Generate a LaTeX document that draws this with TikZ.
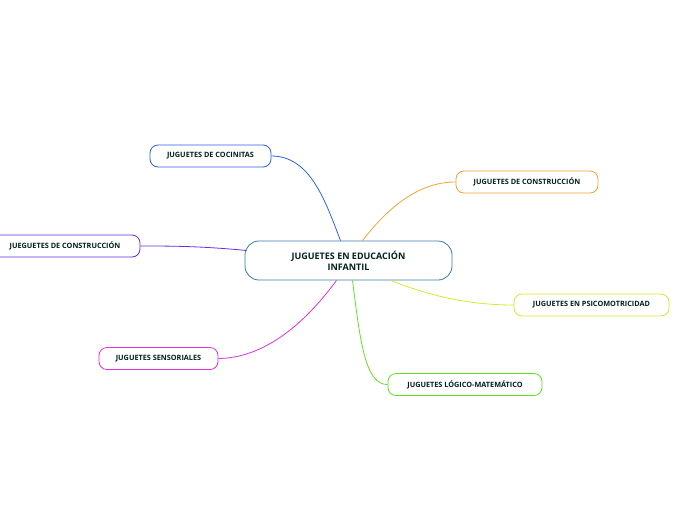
\documentclass[tikz,border=0pt]{standalone}
\usepackage{fontspec}
\setmainfont{Open Sans}
\begin{document}
\begin{tikzpicture}[x=1pt,y=-1pt,
 child/.style={draw,rounded corners=8pt,line width=0.8pt,fill=white,font=\bfseries\fontsize{7.3}{9}\selectfont,text=black!75!teal,inner sep=0pt},
 link/.style={line width=0.8pt}]
\useasboundingbox (0,0) rectangle (696,520);
\definecolor{cblue}{HTML}{2F5FE8}
\definecolor{corange}{HTML}{F5A230}
\definecolor{cpurple}{HTML}{6A2AE0}
\definecolor{cyellow}{HTML}{D8E830}
\definecolor{cmag}{HTML}{E030E0}
\definecolor{cgreen}{HTML}{60E020}
\definecolor{ccent}{HTML}{3A7AB0}
\node[child,draw=ccent,rounded corners=14pt,minimum width=207pt,minimum height=39pt,align=center,font=\bfseries\fontsize{9}{11}\selectfont] (c) at (348.5,260.5) {JUGUETES EN EDUCACIÓN\\INFANTIL};
\node[child,draw=cblue,minimum width=121pt,minimum height=22pt] (a) at (210.5,156) {JUGUETES DE COCINITAS};
\node[child,draw=corange,minimum width=142pt,minimum height=22pt] (b) at (527,182) {JUGUETES DE CONSTRUCCIÓN};
\node[child,draw=cpurple,minimum width=150pt,minimum height=22pt] (d) at (65,246) {JUEGUETES DE CONSTRUCCIÓN};
\node[child,draw=cyellow,minimum width=155pt,minimum height=22pt] (e) at (591.5,305) {JUGUETES EN PSICOMOTRICIDAD};
\node[child,draw=cmag,minimum width=119pt,minimum height=22pt] (f) at (158.5,358.5) {JUGUETES SENSORIALES};
\node[child,draw=cgreen,minimum width=154pt,minimum height=22pt] (g) at (465,384.5) {JUGUETES LÓGICO-MATEMÁTICO};
\draw[link,cblue] (c.north) ++(-8,0) coordinate (c1) .. controls (325,200) and (310,156) .. (a.east);
\draw[link,corange] (c.north) ++(14,0) coordinate (c2) .. controls (390,205) and (420,182) .. (b.west);
\draw[link,cpurple] (c.west) ++(2,-10) coordinate (c3) .. controls (200,246) and (170,246) .. (d.east);
\draw[link,cyellow] (c.south) ++(42,0) coordinate (c4) .. controls (440,300) and (480,305) .. (e.west);
\draw[link,cmag] (c.south) ++(-12,0) coordinate (c5) .. controls (300,330) and (260,358) .. (f.east);
\draw[link,cgreen] (c.south) ++(4,0) coordinate (c6) .. controls (360,340) and (365,385) .. (g.west);
\end{tikzpicture}
\end{document}
